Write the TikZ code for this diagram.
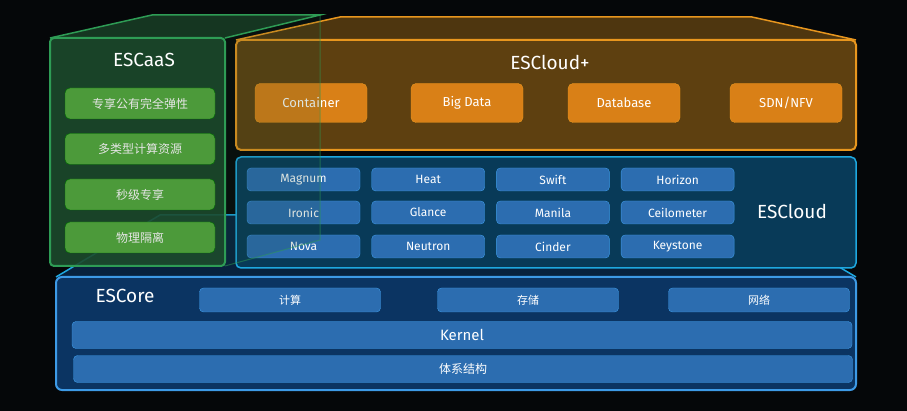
\documentclass[tikz,border=0pt]{standalone}
\usepackage{fontspec}
\setmainfont{Fira Sans}
\newfontfamily\cjk{Noto Sans CJK SC}
\begin{document}
\begin{tikzpicture}[x=1pt,y=-1pt,
 greenbtn/.style={draw=green!45!black,fill=gbtn,rounded corners=5pt,minimum width=150pt,minimum height=31pt,text=white!90!black,font=\cjk\fontsize{12}{14}\selectfont},
 orbtn/.style={draw=obord,fill=obtn,rounded corners=5pt,minimum width=112pt,minimum height=39pt,text=white,font=\fontsize{13}{15}\selectfont},
 bluebtn/.style={draw=bbord,fill=bbtn,rounded corners=4pt,minimum width=113pt,minimum height=23pt,text=white,font=\fontsize{12}{14}\selectfont},
 corebtn/.style={draw=bbord,fill=bbtn,rounded corners=4pt,minimum height=24pt,text=white,font=\cjk\fontsize{11}{13}\selectfont},
 title/.style={text=white,font=\fontsize{19}{22}\selectfont}]
\definecolor{bg}{HTML}{050709}
\definecolor{gfill}{HTML}{1C4A2C}\definecolor{gbord}{HTML}{2E9C55}\definecolor{gbtn}{HTML}{4C9A3A}
\definecolor{ofill}{HTML}{6E4A12}\definecolor{obord}{HTML}{E8961E}\definecolor{obtn}{HTML}{D98017}
\definecolor{cfill}{HTML}{083A58}\definecolor{cbord}{HTML}{1EA8E0}
\definecolor{bfill}{HTML}{0B3462}\definecolor{bbord}{HTML}{3D9AE6}\definecolor{bbtn}{HTML}{2C6DB0}
\fill[bg] (0,0) rectangle (907,411);
\useasboundingbox (0,0) rectangle (907,411);
% ESCore
\fill[bfill,opacity=0.6] (56,277) -- (160,215) -- (752,215) -- (856,277) -- cycle;
\draw[cbord,line width=1.5pt] (56,277) -- (160,215) -- (752,215) -- (856,277);
\draw[bbord,line width=2pt,fill=bfill,rounded corners=6pt] (56,277) rectangle (856,390);
\node[title] (core) at (125,296) {ESCore};
\node[corebtn,minimum width=181pt] (c1) at (290,300) {计算};
\node[corebtn,minimum width=181pt] (c2) at (528,300) {存储};
\node[corebtn,minimum width=181pt] (c3) at (759,300) {网络};
\node[corebtn,minimum width=780pt,minimum height=27pt,font=\fontsize{15}{17}\selectfont] (k) at (462,335) {Kernel};
\node[corebtn,minimum width=779pt,minimum height=27pt,font=\cjk\fontsize{12}{14}\selectfont] (arch) at (463,369) {体系结构};
% ESCloud
\draw[cbord,line width=1.5pt,fill=cfill,rounded corners=5pt] (236,157) rectangle (856,268);
\node[title] (cloud) at (792,211) {ESCloud};
\foreach \t [count=\i] in {Magnum,Heat,Swift,Horizon}
  \node[bluebtn] (r1\i) at ({303.5+124.7*(\i-1)},179.5) {\t};
\foreach \t [count=\i] in {Ironic,Glance,Manila,Ceilometer}
  \node[bluebtn] (r2\i) at ({303.5+124.7*(\i-1)},212.5) {\t};
\foreach \t [count=\i] in {Nova,Neutron,Cinder,Keystone}
  \node[bluebtn] (r3\i) at ({303.5+124.7*(\i-1)},246.5) {\t};
% ESCloud+
\fill[ofill,opacity=0.7] (236,40) -- (340,17) -- (752,17) -- (856,40) -- cycle;
\draw[obord,line width=1.5pt] (236,40) -- (340,17) -- (752,17) -- (856,40);
\draw[obord,line width=2pt,fill=ofill,fill opacity=0.85,rounded corners=5pt] (236,40) rectangle (856,150);
\node[title] (plus) at (550,62) {ESCloud+};
\node[orbtn] (o1) at (311,103) {Container};
\node[orbtn] (o2) at (467,103) {Big Data};
\node[orbtn] (o3) at (624,103) {Database};
\node[orbtn] (o4) at (786,103) {SDN/NFV};
% ESCaaS
\fill[gfill,opacity=0.7] (50,38) -- (152,15) -- (320,15) -- (225,38) -- cycle;
\fill[gfill,opacity=0.15] (225,38) -- (320,15) -- (320,240) -- (225,266) -- cycle;
\draw[gbord,line width=1.5pt] (50,38) -- (152,15) -- (320,15) -- (225,38);
\draw[gbord,line width=1pt,opacity=0.5] (320,15) -- (320,240) -- (225,266);
\draw[gbord,line width=2pt,fill=gfill,fill opacity=0.9,rounded corners=4pt] (50,38) rectangle (225,266);
\node[title] (caas) at (144,60) {ESCaaS};
\node[greenbtn] (g1) at (140,103.5) {专享公有完全弹性};
\node[greenbtn] (g2) at (140,149) {多类型计算资源};
\node[greenbtn] (g3) at (140,194.5) {秒级专享};
\node[greenbtn] (g4) at (140,237.5) {物理隔离};
\end{tikzpicture}
\end{document}
